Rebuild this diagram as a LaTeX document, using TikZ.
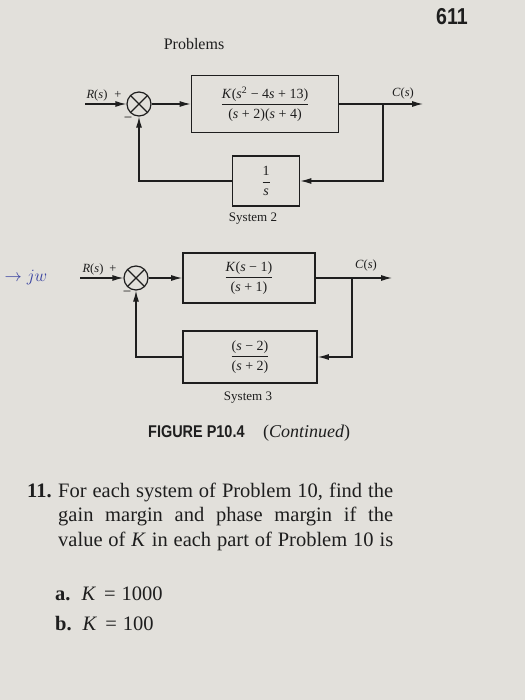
\documentclass[tikz,border=0pt]{standalone}
\usepackage{amsmath}
\usepackage{fontspec}
\setmainfont{Liberation Serif}
\newfontfamily\headfont{Liberation Sans}
\usepackage{graphicx}
\usetikzlibrary{arrows.meta}
\definecolor{paper}{RGB}{226,224,219}
\definecolor{ink}{RGB}{30,30,30}
\definecolor{pen}{RGB}{55,65,160}
\newcommand{\tf}[2]{$\dfrac{\text{#1}}{\text{#2}}$}
\begin{document}
\begin{tikzpicture}[
    x=1pt, y=-1pt,
    every node/.style={inner sep=0pt, text=ink},
    block/.style={draw=ink, line width=1.6pt, font=\fontsize{14}{16}\selectfont},
    sumjn/.style={draw=ink, line width=1.2pt, circle, minimum size=24pt,
      path picture={\draw[ink, line width=1.2pt]
        (path picture bounding box.north west) -- (path picture bounding box.south east)
        (path picture bounding box.south west) -- (path picture bounding box.north east);}},
    sig/.style={draw=ink, line width=1.2pt},
    lbl/.style={font=\fontsize{12.5}{14}\selectfont},
    sign/.style={font=\fontsize{15}{16}\selectfont},
    syscap/.style={font=\fontsize{13}{15}\selectfont},
    body/.style={anchor=base west, font=\fontsize{20.5}{24.5}\selectfont},
    >={Latex[length=11pt,width=6pt]},
    ]
    \fill[paper] (0,0) rectangle (525,700);
    \useasboundingbox (0,0) rectangle (525,700);

    % Page header
    \node[font=\headfont\bfseries\fontsize{23}{25}\selectfont] (page) at (452,17) {\scalebox{0.85}[1]{611}};
    \node[font=\fontsize{16}{18}\selectfont] (title) at (194,44) {Problems};

    % System 2
    \node[sumjn] (sum2) at (139,104) {};
    \node[block, minimum width=147pt, minimum height=57pt] (blk2) at (265,104)
      {\tf{\textit{K}(\textit{s}\textsuperscript{2} − 4\textit{s} + 13)}{(\textit{s} + 2)(\textit{s} + 4)}};
    \node[block, minimum width=67pt, minimum height=50pt] (fb2) at (266,181) {\tf{1}{\textit{s}}};
    \coordinate (in2) at (85,104);
    \coordinate (br2) at (383,104);
    \coordinate (out2) at (423,104);
    \node[lbl] (r2) at (97,95) {\textit{R}(\textit{s})};
    \node[lbl] (plus2) at (118,95) {+};
    \node[sign] (minus2) at (128,120) {−};
    \node[lbl] (c2) at (403,93) {\textit{C}(\textit{s})};
    \node[syscap] (name2) at (253,219) {System 2};

    % System 3
    \node[sumjn] (sum3) at (136,278) {};
    \node[block, minimum width=132pt, minimum height=50pt] (blk3) at (249,278)
      {\tf{\textit{K}(\textit{s} − 1)}{(\textit{s} + 1)}};
    \node[block, minimum width=134pt, minimum height=52pt] (fb3) at (250,357)
      {\tf{(\textit{s} − 2)}{(\textit{s} + 2)}};
    \coordinate (in3) at (80,278);
    \coordinate (br3) at (352,278);
    \coordinate (out3) at (392,278);
    \node[lbl] (r3) at (93,269) {\textit{R}(\textit{s})};
    \node[lbl] (plus3) at (113,269) {+};
    \node[sign] (minus3) at (127,294) {−};
    \node[lbl] (c3) at (366,265) {\textit{C}(\textit{s})};
    \node[syscap] (name3) at (248,398) {System 3};

    % Edges
    \draw[sig,->] (in2) -- (sum2);
    \draw[sig,->] (sum2) -- (blk2);
    \draw[sig,->] (blk2) -- (out2);
    \draw[sig,->] (br2) |- (fb2);
    \draw[sig,->] (fb2) -| (sum2);
    \draw[sig,->] (in3) -- (sum3);
    \draw[sig,->] (sum3) -- (blk3);
    \draw[sig,->] (blk3) -- (out3);
    \draw[sig,->] (br3) |- (fb3);
    \draw[sig,->] (fb3) -| (sum3);

    % Note in pen
    \node[text=pen, font=\fontsize{16}{18}\selectfont] (note) at (26,278) {$\rightarrow jw$};

    % Caption and problem
    \node[anchor=base west, font=\headfont\bfseries\fontsize{17}{19}\selectfont] (fig) at (148,437) {\scalebox{0.85}[1]{FIGURE P10.4}};
    \node[anchor=base west, font=\fontsize{18}{20}\selectfont] (cont) at (263,437) {(\textit{Continued})};
    \node[body, font=\bfseries\fontsize{20.5}{24.5}\selectfont] (num) at (27,497) {11.};
    \node[body] (prob) at (58,497) {\parbox[t]{335pt}{\parfillskip=0pt
      For each system of Problem 10, find the\linebreak
      gain margin and phase margin if the\linebreak
      value of \textit{K} in each part of Problem 10 is}};
    \node[body] (parta) at (55,600) {\textbf{a.}\hspace{11pt}\textit{K}\hspace{8pt}=\hspace{6pt}1000};
    \node[body] (partb) at (55,630) {\textbf{b.}\hspace{11pt}\textit{K}\hspace{8pt}=\hspace{6pt}100};
  \end{tikzpicture}
\end{document}
